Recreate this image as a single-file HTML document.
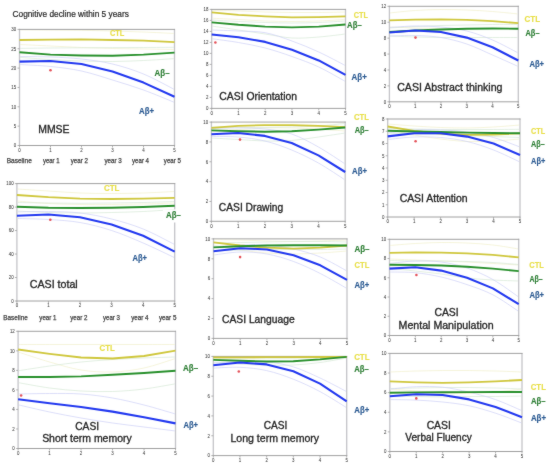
<!DOCTYPE html>
<html><head><meta charset="utf-8"><title>Cognitive decline within 5 years</title>
<style>html,body{margin:0;padding:0;background:#fff;width:550px;height:464px;overflow:hidden}svg{display:block;will-change:transform}</style>
</head><body>
<svg width="550" height="464" viewBox="0 0 550 464">
<defs><filter id="bl" x="0" y="0" width="550" height="464" filterUnits="userSpaceOnUse" color-interpolation-filters="sRGB"><feConvolveMatrix order="3" kernelMatrix="1 2 1 2 32 2 1 2 1" edgeMode="duplicate"/></filter></defs><g filter="url(#bl)">
<rect width="550" height="464" fill="#ffffff"/>
<style>text{font-family:"Liberation Sans", sans-serif} .tk{font-size:4.9px;fill:#3a3a3a;stroke:#444;stroke-width:0.05px} .lb{font-size:7.8px;font-weight:bold;stroke-width:0.15px} .tt{font-size:10.3px;fill:#262626;stroke:#262626;stroke-width:0.32px} .xl{font-size:6.6px;fill:#404040;font-weight:normal;stroke:#404040;stroke-width:0.25px} .hd{font-size:8.6px;fill:#262626;stroke:#262626;stroke-width:0.2px}</style>
<line x1="19.5" y1="28.9" x2="19.5" y2="146" stroke="#c4c4c8" stroke-width="1.3"/>
<line x1="174.5" y1="28.9" x2="174.5" y2="146" stroke="#c4c4c8" stroke-width="1.3"/>
<line x1="19" y1="29.4" x2="175" y2="29.4" stroke="#a0a0a0" stroke-width="1"/>
<line x1="19" y1="145.5" x2="175" y2="145.5" stroke="#a0a0a0" stroke-width="1"/>
<line x1="17.5" y1="145.5" x2="19.5" y2="145.5" stroke="#a0a0a0" stroke-width="0.8"/>
<text x="16.2" y="147.25" class="tk" text-anchor="end" textLength="2.45" lengthAdjust="spacingAndGlyphs">0</text>
<line x1="17.5" y1="126.15" x2="19.5" y2="126.15" stroke="#a0a0a0" stroke-width="0.8"/>
<text x="16.2" y="127.9" class="tk" text-anchor="end" textLength="2.45" lengthAdjust="spacingAndGlyphs">5</text>
<line x1="17.5" y1="106.8" x2="19.5" y2="106.8" stroke="#a0a0a0" stroke-width="0.8"/>
<text x="16.2" y="108.55" class="tk" text-anchor="end" textLength="4.9" lengthAdjust="spacingAndGlyphs">10</text>
<line x1="17.5" y1="87.45" x2="19.5" y2="87.45" stroke="#a0a0a0" stroke-width="0.8"/>
<text x="16.2" y="89.2" class="tk" text-anchor="end" textLength="4.9" lengthAdjust="spacingAndGlyphs">15</text>
<line x1="17.5" y1="68.1" x2="19.5" y2="68.1" stroke="#a0a0a0" stroke-width="0.8"/>
<text x="16.2" y="69.85" class="tk" text-anchor="end" textLength="4.9" lengthAdjust="spacingAndGlyphs">20</text>
<line x1="17.5" y1="48.75" x2="19.5" y2="48.75" stroke="#a0a0a0" stroke-width="0.8"/>
<text x="16.2" y="50.5" class="tk" text-anchor="end" textLength="4.9" lengthAdjust="spacingAndGlyphs">25</text>
<line x1="17.5" y1="29.4" x2="19.5" y2="29.4" stroke="#a0a0a0" stroke-width="0.8"/>
<text x="16.2" y="31.15" class="tk" text-anchor="end" textLength="4.9" lengthAdjust="spacingAndGlyphs">30</text>
<line x1="19.5" y1="145.5" x2="19.5" y2="147.5" stroke="#a0a0a0" stroke-width="0.8"/>
<text x="19.5" y="151.9" class="tk" text-anchor="middle" textLength="2.45" lengthAdjust="spacingAndGlyphs">0</text>
<line x1="50.5" y1="145.5" x2="50.5" y2="147.5" stroke="#a0a0a0" stroke-width="0.8"/>
<text x="50.5" y="151.9" class="tk" text-anchor="middle" textLength="2.45" lengthAdjust="spacingAndGlyphs">1</text>
<line x1="81.5" y1="145.5" x2="81.5" y2="147.5" stroke="#a0a0a0" stroke-width="0.8"/>
<text x="81.5" y="151.9" class="tk" text-anchor="middle" textLength="2.45" lengthAdjust="spacingAndGlyphs">2</text>
<line x1="112.5" y1="145.5" x2="112.5" y2="147.5" stroke="#a0a0a0" stroke-width="0.8"/>
<text x="112.5" y="151.9" class="tk" text-anchor="middle" textLength="2.45" lengthAdjust="spacingAndGlyphs">3</text>
<line x1="143.5" y1="145.5" x2="143.5" y2="147.5" stroke="#a0a0a0" stroke-width="0.8"/>
<text x="143.5" y="151.9" class="tk" text-anchor="middle" textLength="2.45" lengthAdjust="spacingAndGlyphs">4</text>
<line x1="174.5" y1="145.5" x2="174.5" y2="147.5" stroke="#a0a0a0" stroke-width="0.8"/>
<text x="174.5" y="151.9" class="tk" text-anchor="middle" textLength="2.45" lengthAdjust="spacingAndGlyphs">5</text>
<clipPath id="cpA"><rect x="20.2" y="30" width="153.6" height="114.9"/></clipPath><g clip-path="url(#cpA)">
<path d="M19.5,29.8 C24.67,29.83 40.17,29.92 50.5,30 C60.83,30.08 71.17,30.13 81.5,30.3 C91.83,30.47 102.17,30.72 112.5,31 C122.83,31.28 133.17,31.58 143.5,32 C153.83,32.42 169.33,33.25 174.5,33.5" fill="none" stroke="#f1efcc" stroke-width="0.7"/>
<path d="M19.5,44.5 C24.67,44.75 40.17,45.5 50.5,46 C60.83,46.5 71.17,47.08 81.5,47.5 C91.83,47.92 102.17,48.25 112.5,48.5 C122.83,48.75 133.17,48.83 143.5,49 C153.83,49.17 169.33,49.42 174.5,49.5" fill="none" stroke="#f1efcc" stroke-width="0.7"/>
<path d="M19.5,48.4 C24.67,48.33 40.17,48.1 50.5,48 C60.83,47.9 71.17,47.87 81.5,47.8 C91.83,47.73 102.17,47.65 112.5,47.6 C122.83,47.55 133.17,47.55 143.5,47.5 C153.83,47.45 169.33,47.33 174.5,47.3" fill="none" stroke="#d5e8d5" stroke-width="0.7"/>
<path d="M19.5,57.4 C24.67,57.75 40.17,58.9 50.5,59.5 C60.83,60.1 71.17,60.67 81.5,61 C91.83,61.33 102.17,61.58 112.5,61.5 C122.83,61.42 133.17,60.98 143.5,60.5 C153.83,60.02 169.33,58.92 174.5,58.6" fill="none" stroke="#d5e8d5" stroke-width="0.7"/>
<path d="M19.5,56.5 C24.67,56.58 40.17,56.58 50.5,57 C60.83,57.42 71.17,57.83 81.5,59 C91.83,60.17 102.17,61.5 112.5,64 C122.83,66.5 133.17,69.75 143.5,74 C153.83,78.25 169.33,86.92 174.5,89.5" fill="none" stroke="#cdd0f6" stroke-width="0.7"/>
<path d="M19.5,64.5 C24.67,64.83 40.17,65.42 50.5,66.5 C60.83,67.58 71.17,68.75 81.5,71 C91.83,73.25 102.17,76.83 112.5,80 C122.83,83.17 133.17,86.27 143.5,90 C153.83,93.73 169.33,100.33 174.5,102.4" fill="none" stroke="#cdd0f6" stroke-width="0.7"/>
</g>
<polyline points="19.5,40 50.5,39.7 81.5,39.4 112.5,40 143.5,40.6 174.5,42.1" fill="none" stroke="#cfc73c" stroke-width="1.8" stroke-linejoin="round" stroke-linecap="butt"/>
<polyline points="19.5,52.2 50.5,54.6 81.5,55.5 112.5,55.8 143.5,54.6 174.5,52.6" fill="none" stroke="#28902c" stroke-width="1.9" stroke-linejoin="round" stroke-linecap="butt"/>
<polyline points="19.5,61.6 50.5,61 81.5,64 112.5,71.5 143.5,82.6 174.5,96.8" fill="none" stroke="#2238f0" stroke-width="2.1" stroke-linejoin="round" stroke-linecap="butt"/>
<circle cx="50.5" cy="70.2" r="1.3" fill="#e4525a"/>
<line x1="16.9" y1="183.1" x2="16.9" y2="301.5" stroke="#c4c4c8" stroke-width="1.3"/>
<line x1="174.7" y1="183.1" x2="174.7" y2="301.5" stroke="#c4c4c8" stroke-width="1.3"/>
<line x1="16.4" y1="183.6" x2="175.2" y2="183.6" stroke="#a0a0a0" stroke-width="1"/>
<line x1="16.4" y1="301" x2="175.2" y2="301" stroke="#a0a0a0" stroke-width="1"/>
<line x1="14.9" y1="301" x2="16.9" y2="301" stroke="#a0a0a0" stroke-width="0.8"/>
<text x="13.6" y="302.75" class="tk" text-anchor="end" textLength="2.45" lengthAdjust="spacingAndGlyphs">0</text>
<line x1="14.9" y1="277.52" x2="16.9" y2="277.52" stroke="#a0a0a0" stroke-width="0.8"/>
<text x="13.6" y="279.27" class="tk" text-anchor="end" textLength="4.9" lengthAdjust="spacingAndGlyphs">20</text>
<line x1="14.9" y1="254.04" x2="16.9" y2="254.04" stroke="#a0a0a0" stroke-width="0.8"/>
<text x="13.6" y="255.79" class="tk" text-anchor="end" textLength="4.9" lengthAdjust="spacingAndGlyphs">40</text>
<line x1="14.9" y1="230.56" x2="16.9" y2="230.56" stroke="#a0a0a0" stroke-width="0.8"/>
<text x="13.6" y="232.31" class="tk" text-anchor="end" textLength="4.9" lengthAdjust="spacingAndGlyphs">60</text>
<line x1="14.9" y1="207.08" x2="16.9" y2="207.08" stroke="#a0a0a0" stroke-width="0.8"/>
<text x="13.6" y="208.83" class="tk" text-anchor="end" textLength="4.9" lengthAdjust="spacingAndGlyphs">80</text>
<line x1="14.9" y1="183.6" x2="16.9" y2="183.6" stroke="#a0a0a0" stroke-width="0.8"/>
<text x="13.6" y="185.35" class="tk" text-anchor="end" textLength="7.36" lengthAdjust="spacingAndGlyphs">100</text>
<line x1="16.9" y1="301" x2="16.9" y2="303" stroke="#a0a0a0" stroke-width="0.8"/>
<text x="16.9" y="307.4" class="tk" text-anchor="middle" textLength="2.45" lengthAdjust="spacingAndGlyphs">0</text>
<line x1="48.46" y1="301" x2="48.46" y2="303" stroke="#a0a0a0" stroke-width="0.8"/>
<text x="48.46" y="307.4" class="tk" text-anchor="middle" textLength="2.45" lengthAdjust="spacingAndGlyphs">1</text>
<line x1="80.02" y1="301" x2="80.02" y2="303" stroke="#a0a0a0" stroke-width="0.8"/>
<text x="80.02" y="307.4" class="tk" text-anchor="middle" textLength="2.45" lengthAdjust="spacingAndGlyphs">2</text>
<line x1="111.58" y1="301" x2="111.58" y2="303" stroke="#a0a0a0" stroke-width="0.8"/>
<text x="111.58" y="307.4" class="tk" text-anchor="middle" textLength="2.45" lengthAdjust="spacingAndGlyphs">3</text>
<line x1="143.14" y1="301" x2="143.14" y2="303" stroke="#a0a0a0" stroke-width="0.8"/>
<text x="143.14" y="307.4" class="tk" text-anchor="middle" textLength="2.45" lengthAdjust="spacingAndGlyphs">4</text>
<line x1="174.7" y1="301" x2="174.7" y2="303" stroke="#a0a0a0" stroke-width="0.8"/>
<text x="174.7" y="307.4" class="tk" text-anchor="middle" textLength="2.45" lengthAdjust="spacingAndGlyphs">5</text>
<clipPath id="cpB"><rect x="17.6" y="184.2" width="156.4" height="116.2"/></clipPath><g clip-path="url(#cpB)">
<path d="M16.9,189 C22.16,189.33 37.94,190.33 48.46,191 C58.98,191.67 69.5,192.58 80.02,193 C90.54,193.42 101.06,193.5 111.58,193.5 C122.1,193.5 132.62,193.33 143.14,193 C153.66,192.67 169.44,191.75 174.7,191.5" fill="none" stroke="#f1efcc" stroke-width="0.7"/>
<path d="M16.9,201 C22.16,201.42 37.94,202.92 48.46,203.5 C58.98,204.08 69.5,204.33 80.02,204.5 C90.54,204.67 101.06,204.58 111.58,204.5 C122.1,204.42 132.62,204.25 143.14,204 C153.66,203.75 169.44,203.17 174.7,203" fill="none" stroke="#f1efcc" stroke-width="0.7"/>
<path d="M16.9,202.5 C22.16,202.58 37.94,202.87 48.46,203 C58.98,203.13 69.5,203.3 80.02,203.3 C90.54,203.3 101.06,203.13 111.58,203 C122.1,202.87 132.62,202.75 143.14,202.5 C153.66,202.25 169.44,201.67 174.7,201.5" fill="none" stroke="#d5e8d5" stroke-width="0.7"/>
<path d="M16.9,211 C22.16,211.25 37.94,212.17 48.46,212.5 C58.98,212.83 69.5,213 80.02,213 C90.54,213 101.06,212.75 111.58,212.5 C122.1,212.25 132.62,212 143.14,211.5 C153.66,211 169.44,209.83 174.7,209.5" fill="none" stroke="#d5e8d5" stroke-width="0.7"/>
<path d="M16.9,212 C22.16,211.92 37.94,211.33 48.46,211.5 C58.98,211.67 69.5,211.75 80.02,213 C90.54,214.25 101.06,216.33 111.58,219 C122.1,221.67 132.62,224.75 143.14,229 C153.66,233.25 169.44,241.92 174.7,244.5" fill="none" stroke="#cdd0f6" stroke-width="0.7"/>
<path d="M16.9,218.5 C22.16,218.67 37.94,218.83 48.46,219.5 C58.98,220.17 69.5,220.67 80.02,222.5 C90.54,224.33 101.06,227.08 111.58,230.5 C122.1,233.92 132.62,238.47 143.14,243 C153.66,247.53 169.44,255.25 174.7,257.7" fill="none" stroke="#cdd0f6" stroke-width="0.7"/>
</g>
<polyline points="16.9,195 48.46,197.2 80.02,198.7 111.58,199 143.14,198.7 174.7,197.8" fill="none" stroke="#cfc73c" stroke-width="1.8" stroke-linejoin="round" stroke-linecap="butt"/>
<polyline points="16.9,206.7 48.46,207.7 80.02,208 111.58,207.7 143.14,207 174.7,205.8" fill="none" stroke="#28902c" stroke-width="1.9" stroke-linejoin="round" stroke-linecap="butt"/>
<polyline points="16.9,215.7 48.46,214.5 80.02,217.3 111.58,224.4 143.14,235.8 174.7,251.6" fill="none" stroke="#2238f0" stroke-width="2.1" stroke-linejoin="round" stroke-linecap="butt"/>
<circle cx="50.3" cy="219.8" r="1.3" fill="#e4525a"/>
<line x1="18.1" y1="330.8" x2="18.1" y2="449" stroke="#c4c4c8" stroke-width="1.3"/>
<line x1="175.5" y1="330.8" x2="175.5" y2="449" stroke="#c4c4c8" stroke-width="1.3"/>
<line x1="17.6" y1="331.3" x2="176" y2="331.3" stroke="#a0a0a0" stroke-width="1"/>
<line x1="17.6" y1="448.5" x2="176" y2="448.5" stroke="#a0a0a0" stroke-width="1"/>
<line x1="16.1" y1="448.5" x2="18.1" y2="448.5" stroke="#a0a0a0" stroke-width="0.8"/>
<text x="14.8" y="450.25" class="tk" text-anchor="end" textLength="2.45" lengthAdjust="spacingAndGlyphs">0</text>
<line x1="16.1" y1="428.97" x2="18.1" y2="428.97" stroke="#a0a0a0" stroke-width="0.8"/>
<text x="14.8" y="430.72" class="tk" text-anchor="end" textLength="2.45" lengthAdjust="spacingAndGlyphs">2</text>
<line x1="16.1" y1="409.43" x2="18.1" y2="409.43" stroke="#a0a0a0" stroke-width="0.8"/>
<text x="14.8" y="411.18" class="tk" text-anchor="end" textLength="2.45" lengthAdjust="spacingAndGlyphs">4</text>
<line x1="16.1" y1="389.9" x2="18.1" y2="389.9" stroke="#a0a0a0" stroke-width="0.8"/>
<text x="14.8" y="391.65" class="tk" text-anchor="end" textLength="2.45" lengthAdjust="spacingAndGlyphs">6</text>
<line x1="16.1" y1="370.37" x2="18.1" y2="370.37" stroke="#a0a0a0" stroke-width="0.8"/>
<text x="14.8" y="372.12" class="tk" text-anchor="end" textLength="2.45" lengthAdjust="spacingAndGlyphs">8</text>
<line x1="16.1" y1="350.83" x2="18.1" y2="350.83" stroke="#a0a0a0" stroke-width="0.8"/>
<text x="14.8" y="352.58" class="tk" text-anchor="end" textLength="4.9" lengthAdjust="spacingAndGlyphs">10</text>
<line x1="16.1" y1="331.3" x2="18.1" y2="331.3" stroke="#a0a0a0" stroke-width="0.8"/>
<text x="14.8" y="333.05" class="tk" text-anchor="end" textLength="4.9" lengthAdjust="spacingAndGlyphs">12</text>
<line x1="18.1" y1="448.5" x2="18.1" y2="450.5" stroke="#a0a0a0" stroke-width="0.8"/>
<text x="18.1" y="454.9" class="tk" text-anchor="middle" textLength="2.45" lengthAdjust="spacingAndGlyphs">0</text>
<line x1="49.58" y1="448.5" x2="49.58" y2="450.5" stroke="#a0a0a0" stroke-width="0.8"/>
<text x="49.58" y="454.9" class="tk" text-anchor="middle" textLength="2.45" lengthAdjust="spacingAndGlyphs">1</text>
<line x1="81.06" y1="448.5" x2="81.06" y2="450.5" stroke="#a0a0a0" stroke-width="0.8"/>
<text x="81.06" y="454.9" class="tk" text-anchor="middle" textLength="2.45" lengthAdjust="spacingAndGlyphs">2</text>
<line x1="112.54" y1="448.5" x2="112.54" y2="450.5" stroke="#a0a0a0" stroke-width="0.8"/>
<text x="112.54" y="454.9" class="tk" text-anchor="middle" textLength="2.45" lengthAdjust="spacingAndGlyphs">3</text>
<line x1="144.02" y1="448.5" x2="144.02" y2="450.5" stroke="#a0a0a0" stroke-width="0.8"/>
<text x="144.02" y="454.9" class="tk" text-anchor="middle" textLength="2.45" lengthAdjust="spacingAndGlyphs">4</text>
<line x1="175.5" y1="448.5" x2="175.5" y2="450.5" stroke="#a0a0a0" stroke-width="0.8"/>
<text x="175.5" y="454.9" class="tk" text-anchor="middle" textLength="2.45" lengthAdjust="spacingAndGlyphs">5</text>
<clipPath id="cpC"><rect x="18.8" y="331.9" width="156" height="116"/></clipPath><g clip-path="url(#cpC)">
<path d="M18.1,344.5 C23.35,344.5 39.09,344.5 49.58,344.5 C60.07,344.5 70.57,344.5 81.06,344.5 C91.55,344.5 102.05,344.5 112.54,344.5 C123.03,344.5 133.53,344.5 144.02,344.5 C154.51,344.5 170.25,344.5 175.5,344.5" fill="none" stroke="#f1efcc" stroke-width="0.7"/>
<path d="M18.1,352 C23.35,353.67 39.09,359 49.58,362 C60.07,365 70.57,368.33 81.06,370 C91.55,371.67 102.05,372.33 112.54,372 C123.03,371.67 133.53,370.25 144.02,368 C154.51,365.75 170.25,360.08 175.5,358.5" fill="none" stroke="#f1efcc" stroke-width="0.7"/>
<path d="M18.1,370.8 C23.35,370 39.09,367.47 49.58,366 C60.07,364.53 70.57,363.08 81.06,362 C91.55,360.92 102.05,360.17 112.54,359.5 C123.03,358.83 133.53,358.42 144.02,358 C154.51,357.58 170.25,357.17 175.5,357" fill="none" stroke="#d5e8d5" stroke-width="0.7"/>
<path d="M18.1,382.6 C23.35,383.5 39.09,386.6 49.58,388 C60.07,389.4 70.57,390.42 81.06,391 C91.55,391.58 102.05,391.83 112.54,391.5 C123.03,391.17 133.53,390.28 144.02,389 C154.51,387.72 170.25,384.67 175.5,383.8" fill="none" stroke="#d5e8d5" stroke-width="0.7"/>
<path d="M18.1,394 C23.35,393.92 39.09,393.5 49.58,393.5 C60.07,393.5 70.57,393.25 81.06,394 C91.55,394.75 102.05,396.17 112.54,398 C123.03,399.83 133.53,402.33 144.02,405 C154.51,407.67 170.25,412.5 175.5,414" fill="none" stroke="#cdd0f6" stroke-width="0.7"/>
<path d="M18.1,404.8 C23.35,406 39.09,409.8 49.58,412 C60.07,414.2 70.57,416.17 81.06,418 C91.55,419.83 102.05,421.5 112.54,423 C123.03,424.5 133.53,425.67 144.02,427 C154.51,428.33 170.25,430.33 175.5,431" fill="none" stroke="#cdd0f6" stroke-width="0.7"/>
</g>
<polyline points="18.1,349.5 49.58,353.8 81.06,357.5 112.54,358.5 144.02,356 175.5,350.7" fill="none" stroke="#cfc73c" stroke-width="1.8" stroke-linejoin="round" stroke-linecap="butt"/>
<polyline points="18.1,377 49.58,377 81.06,376.4 112.54,374.8 144.02,373 175.5,370.8" fill="none" stroke="#28902c" stroke-width="1.9" stroke-linejoin="round" stroke-linecap="butt"/>
<polyline points="18.1,399.3 49.58,403.3 81.06,407 112.54,411.6 144.02,417.2 175.5,423.4" fill="none" stroke="#2238f0" stroke-width="2.1" stroke-linejoin="round" stroke-linecap="butt"/>
<circle cx="21.1" cy="395.5" r="1.3" fill="#e4525a"/>
<line x1="211.7" y1="8.9" x2="211.7" y2="108.9" stroke="#c4c4c8" stroke-width="1.3"/>
<line x1="345.5" y1="8.9" x2="345.5" y2="108.9" stroke="#c4c4c8" stroke-width="1.3"/>
<line x1="211.2" y1="9.4" x2="346" y2="9.4" stroke="#a0a0a0" stroke-width="1"/>
<line x1="211.2" y1="108.4" x2="346" y2="108.4" stroke="#a0a0a0" stroke-width="1"/>
<line x1="209.7" y1="108.4" x2="211.7" y2="108.4" stroke="#a0a0a0" stroke-width="0.8"/>
<text x="208.4" y="110.15" class="tk" text-anchor="end" textLength="2.45" lengthAdjust="spacingAndGlyphs">0</text>
<line x1="209.7" y1="97.4" x2="211.7" y2="97.4" stroke="#a0a0a0" stroke-width="0.8"/>
<text x="208.4" y="99.15" class="tk" text-anchor="end" textLength="2.45" lengthAdjust="spacingAndGlyphs">2</text>
<line x1="209.7" y1="86.4" x2="211.7" y2="86.4" stroke="#a0a0a0" stroke-width="0.8"/>
<text x="208.4" y="88.15" class="tk" text-anchor="end" textLength="2.45" lengthAdjust="spacingAndGlyphs">4</text>
<line x1="209.7" y1="75.4" x2="211.7" y2="75.4" stroke="#a0a0a0" stroke-width="0.8"/>
<text x="208.4" y="77.15" class="tk" text-anchor="end" textLength="2.45" lengthAdjust="spacingAndGlyphs">6</text>
<line x1="209.7" y1="64.4" x2="211.7" y2="64.4" stroke="#a0a0a0" stroke-width="0.8"/>
<text x="208.4" y="66.15" class="tk" text-anchor="end" textLength="2.45" lengthAdjust="spacingAndGlyphs">8</text>
<line x1="209.7" y1="53.4" x2="211.7" y2="53.4" stroke="#a0a0a0" stroke-width="0.8"/>
<text x="208.4" y="55.15" class="tk" text-anchor="end" textLength="4.9" lengthAdjust="spacingAndGlyphs">10</text>
<line x1="209.7" y1="42.4" x2="211.7" y2="42.4" stroke="#a0a0a0" stroke-width="0.8"/>
<text x="208.4" y="44.15" class="tk" text-anchor="end" textLength="4.9" lengthAdjust="spacingAndGlyphs">12</text>
<line x1="209.7" y1="31.4" x2="211.7" y2="31.4" stroke="#a0a0a0" stroke-width="0.8"/>
<text x="208.4" y="33.15" class="tk" text-anchor="end" textLength="4.9" lengthAdjust="spacingAndGlyphs">14</text>
<line x1="209.7" y1="20.4" x2="211.7" y2="20.4" stroke="#a0a0a0" stroke-width="0.8"/>
<text x="208.4" y="22.15" class="tk" text-anchor="end" textLength="4.9" lengthAdjust="spacingAndGlyphs">16</text>
<line x1="209.7" y1="9.4" x2="211.7" y2="9.4" stroke="#a0a0a0" stroke-width="0.8"/>
<text x="208.4" y="11.15" class="tk" text-anchor="end" textLength="4.9" lengthAdjust="spacingAndGlyphs">18</text>
<line x1="211.7" y1="108.4" x2="211.7" y2="110.4" stroke="#a0a0a0" stroke-width="0.8"/>
<text x="211.7" y="114.8" class="tk" text-anchor="middle" textLength="2.45" lengthAdjust="spacingAndGlyphs">0</text>
<line x1="238.46" y1="108.4" x2="238.46" y2="110.4" stroke="#a0a0a0" stroke-width="0.8"/>
<text x="238.46" y="114.8" class="tk" text-anchor="middle" textLength="2.45" lengthAdjust="spacingAndGlyphs">1</text>
<line x1="265.22" y1="108.4" x2="265.22" y2="110.4" stroke="#a0a0a0" stroke-width="0.8"/>
<text x="265.22" y="114.8" class="tk" text-anchor="middle" textLength="2.45" lengthAdjust="spacingAndGlyphs">2</text>
<line x1="291.98" y1="108.4" x2="291.98" y2="110.4" stroke="#a0a0a0" stroke-width="0.8"/>
<text x="291.98" y="114.8" class="tk" text-anchor="middle" textLength="2.45" lengthAdjust="spacingAndGlyphs">3</text>
<line x1="318.74" y1="108.4" x2="318.74" y2="110.4" stroke="#a0a0a0" stroke-width="0.8"/>
<text x="318.74" y="114.8" class="tk" text-anchor="middle" textLength="2.45" lengthAdjust="spacingAndGlyphs">4</text>
<line x1="345.5" y1="108.4" x2="345.5" y2="110.4" stroke="#a0a0a0" stroke-width="0.8"/>
<text x="345.5" y="114.8" class="tk" text-anchor="middle" textLength="2.45" lengthAdjust="spacingAndGlyphs">5</text>
<clipPath id="cpD"><rect x="212.4" y="10" width="132.4" height="97.8"/></clipPath><g clip-path="url(#cpD)">
<path d="M211.7,10.3 C216.16,10.42 229.54,10.72 238.46,11 C247.38,11.28 256.3,11.75 265.22,12 C274.14,12.25 283.06,12.42 291.98,12.5 C300.9,12.58 309.82,12.58 318.74,12.5 C327.66,12.42 341.04,12.08 345.5,12" fill="none" stroke="#f1efcc" stroke-width="0.7"/>
<path d="M211.7,18.2 C216.16,18.42 229.54,19.03 238.46,19.5 C247.38,19.97 256.3,20.67 265.22,21 C274.14,21.33 283.06,21.5 291.98,21.5 C300.9,21.5 309.82,21.33 318.74,21 C327.66,20.67 341.04,19.75 345.5,19.5" fill="none" stroke="#f1efcc" stroke-width="0.7"/>
<path d="M211.7,20 C216.16,20.25 229.54,21.08 238.46,21.5 C247.38,21.92 256.3,22.25 265.22,22.5 C274.14,22.75 283.06,23 291.98,23 C300.9,23 309.82,22.83 318.74,22.5 C327.66,22.17 341.04,21.25 345.5,21" fill="none" stroke="#d5e8d5" stroke-width="0.7"/>
<path d="M211.7,26 C216.16,26.67 229.54,28.67 238.46,30 C247.38,31.33 256.3,32.67 265.22,34 C274.14,35.33 283.06,37.5 291.98,38 C300.9,38.5 309.82,37.67 318.74,37 C327.66,36.33 341.04,34.5 345.5,34" fill="none" stroke="#d5e8d5" stroke-width="0.7"/>
<path d="M211.7,30 C216.16,30.17 229.54,30.55 238.46,31 C247.38,31.45 256.3,31.03 265.22,32.7 C274.14,34.37 283.06,37.78 291.98,41 C300.9,44.22 309.82,47.9 318.74,52 C327.66,56.1 341.04,63.33 345.5,65.6" fill="none" stroke="#cdd0f6" stroke-width="0.7"/>
<path d="M211.7,38.7 C216.16,39.33 229.54,40.95 238.46,42.5 C247.38,44.05 256.3,45.67 265.22,48 C274.14,50.33 283.06,53.33 291.98,56.5 C300.9,59.67 309.82,62.83 318.74,67 C327.66,71.17 341.04,79.08 345.5,81.5" fill="none" stroke="#cdd0f6" stroke-width="0.7"/>
</g>
<polyline points="211.7,12.4 238.46,14.8 265.22,16.3 291.98,17.4 318.74,17.1 345.5,16.3" fill="none" stroke="#cfc73c" stroke-width="1.8" stroke-linejoin="round" stroke-linecap="butt"/>
<polyline points="211.7,22.4 238.46,24.8 265.22,26.6 291.98,27.4 318.74,26.6 345.5,24.5" fill="none" stroke="#28902c" stroke-width="1.9" stroke-linejoin="round" stroke-linecap="butt"/>
<polyline points="211.7,34.5 238.46,37.2 265.22,41.9 291.98,49.8 318.74,60.4 345.5,74.9" fill="none" stroke="#2238f0" stroke-width="2.1" stroke-linejoin="round" stroke-linecap="butt"/>
<circle cx="215.4" cy="42.5" r="1.3" fill="#e4525a"/>
<line x1="211.4" y1="121.6" x2="211.4" y2="221.8" stroke="#c4c4c8" stroke-width="1.3"/>
<line x1="345.2" y1="121.6" x2="345.2" y2="221.8" stroke="#c4c4c8" stroke-width="1.3"/>
<line x1="210.9" y1="122.1" x2="345.7" y2="122.1" stroke="#a0a0a0" stroke-width="1"/>
<line x1="210.9" y1="221.3" x2="345.7" y2="221.3" stroke="#a0a0a0" stroke-width="1"/>
<line x1="209.4" y1="221.3" x2="211.4" y2="221.3" stroke="#a0a0a0" stroke-width="0.8"/>
<text x="208.1" y="223.05" class="tk" text-anchor="end" textLength="2.45" lengthAdjust="spacingAndGlyphs">0</text>
<line x1="209.4" y1="201.46" x2="211.4" y2="201.46" stroke="#a0a0a0" stroke-width="0.8"/>
<text x="208.1" y="203.21" class="tk" text-anchor="end" textLength="2.45" lengthAdjust="spacingAndGlyphs">2</text>
<line x1="209.4" y1="181.62" x2="211.4" y2="181.62" stroke="#a0a0a0" stroke-width="0.8"/>
<text x="208.1" y="183.37" class="tk" text-anchor="end" textLength="2.45" lengthAdjust="spacingAndGlyphs">4</text>
<line x1="209.4" y1="161.78" x2="211.4" y2="161.78" stroke="#a0a0a0" stroke-width="0.8"/>
<text x="208.1" y="163.53" class="tk" text-anchor="end" textLength="2.45" lengthAdjust="spacingAndGlyphs">6</text>
<line x1="209.4" y1="141.94" x2="211.4" y2="141.94" stroke="#a0a0a0" stroke-width="0.8"/>
<text x="208.1" y="143.69" class="tk" text-anchor="end" textLength="2.45" lengthAdjust="spacingAndGlyphs">8</text>
<line x1="209.4" y1="122.1" x2="211.4" y2="122.1" stroke="#a0a0a0" stroke-width="0.8"/>
<text x="208.1" y="123.85" class="tk" text-anchor="end" textLength="4.9" lengthAdjust="spacingAndGlyphs">10</text>
<line x1="211.4" y1="221.3" x2="211.4" y2="223.3" stroke="#a0a0a0" stroke-width="0.8"/>
<text x="211.4" y="227.7" class="tk" text-anchor="middle" textLength="2.45" lengthAdjust="spacingAndGlyphs">0</text>
<line x1="238.16" y1="221.3" x2="238.16" y2="223.3" stroke="#a0a0a0" stroke-width="0.8"/>
<text x="238.16" y="227.7" class="tk" text-anchor="middle" textLength="2.45" lengthAdjust="spacingAndGlyphs">1</text>
<line x1="264.92" y1="221.3" x2="264.92" y2="223.3" stroke="#a0a0a0" stroke-width="0.8"/>
<text x="264.92" y="227.7" class="tk" text-anchor="middle" textLength="2.45" lengthAdjust="spacingAndGlyphs">2</text>
<line x1="291.68" y1="221.3" x2="291.68" y2="223.3" stroke="#a0a0a0" stroke-width="0.8"/>
<text x="291.68" y="227.7" class="tk" text-anchor="middle" textLength="2.45" lengthAdjust="spacingAndGlyphs">3</text>
<line x1="318.44" y1="221.3" x2="318.44" y2="223.3" stroke="#a0a0a0" stroke-width="0.8"/>
<text x="318.44" y="227.7" class="tk" text-anchor="middle" textLength="2.45" lengthAdjust="spacingAndGlyphs">4</text>
<line x1="345.2" y1="221.3" x2="345.2" y2="223.3" stroke="#a0a0a0" stroke-width="0.8"/>
<text x="345.2" y="227.7" class="tk" text-anchor="middle" textLength="2.45" lengthAdjust="spacingAndGlyphs">5</text>
<clipPath id="cpE"><rect x="212.1" y="122.7" width="132.4" height="98"/></clipPath><g clip-path="url(#cpE)">
<path d="M211.4,122.7 C215.86,122.67 229.24,122.53 238.16,122.5 C247.08,122.47 256,122.5 264.92,122.5 C273.84,122.5 282.76,122.5 291.68,122.5 C300.6,122.5 309.52,122.47 318.44,122.5 C327.36,122.53 340.74,122.67 345.2,122.7" fill="none" stroke="#f1efcc" stroke-width="0.7"/>
<path d="M211.4,131 C215.86,130.75 229.24,130 238.16,129.5 C247.08,129 256,128.25 264.92,128 C273.84,127.75 282.76,127.83 291.68,128 C300.6,128.17 309.52,128.5 318.44,129 C327.36,129.5 340.74,130.67 345.2,131" fill="none" stroke="#f1efcc" stroke-width="0.7"/>
<path d="M211.4,127 C215.86,127.08 229.24,127.42 238.16,127.5 C247.08,127.58 256,127.58 264.92,127.5 C273.84,127.42 282.76,127.25 291.68,127 C300.6,126.75 309.52,126.58 318.44,126 C327.36,125.42 340.74,123.92 345.2,123.5" fill="none" stroke="#d5e8d5" stroke-width="0.7"/>
<path d="M211.4,138 C215.86,138.25 229.24,139 238.16,139.5 C247.08,140 256,140.83 264.92,141 C273.84,141.17 282.76,141.17 291.68,140.5 C300.6,139.83 309.52,138.25 318.44,137 C327.36,135.75 340.74,133.67 345.2,133" fill="none" stroke="#d5e8d5" stroke-width="0.7"/>
<path d="M211.4,128.5 C215.86,128.42 229.24,127.92 238.16,128 C247.08,128.08 256,128 264.92,129 C273.84,130 282.76,131 291.68,134 C300.6,137 309.52,142 318.44,147 C327.36,152 340.74,161.17 345.2,164" fill="none" stroke="#cdd0f6" stroke-width="0.7"/>
<path d="M211.4,136.5 C215.86,136.58 229.24,136.25 238.16,137 C247.08,137.75 256,138.83 264.92,141 C273.84,143.17 282.76,146.33 291.68,150 C300.6,153.67 309.52,158 318.44,163 C327.36,168 340.74,177.17 345.2,180" fill="none" stroke="#cdd0f6" stroke-width="0.7"/>
</g>
<polyline points="211.4,127.8 238.16,125.9 264.92,125.1 291.68,125.1 318.44,125.9 345.2,127.2" fill="none" stroke="#cfc73c" stroke-width="1.8" stroke-linejoin="round" stroke-linecap="butt"/>
<polyline points="211.4,130.4 238.16,131.2 264.92,131.7 291.68,131.2 318.44,129.6 345.2,127.5" fill="none" stroke="#28902c" stroke-width="1.9" stroke-linejoin="round" stroke-linecap="butt"/>
<polyline points="211.4,134.3 238.16,133 264.92,135.9 291.68,143 318.44,155.4 345.2,172" fill="none" stroke="#2238f0" stroke-width="2.1" stroke-linejoin="round" stroke-linecap="butt"/>
<circle cx="240" cy="139.6" r="1.3" fill="#e4525a"/>
<line x1="213.5" y1="238.4" x2="213.5" y2="338.9" stroke="#c4c4c8" stroke-width="1.3"/>
<line x1="347" y1="238.4" x2="347" y2="338.9" stroke="#c4c4c8" stroke-width="1.3"/>
<line x1="213" y1="238.9" x2="347.5" y2="238.9" stroke="#a0a0a0" stroke-width="1"/>
<line x1="213" y1="338.4" x2="347.5" y2="338.4" stroke="#a0a0a0" stroke-width="1"/>
<line x1="211.5" y1="338.4" x2="213.5" y2="338.4" stroke="#a0a0a0" stroke-width="0.8"/>
<text x="210.2" y="340.15" class="tk" text-anchor="end" textLength="2.45" lengthAdjust="spacingAndGlyphs">0</text>
<line x1="211.5" y1="318.5" x2="213.5" y2="318.5" stroke="#a0a0a0" stroke-width="0.8"/>
<text x="210.2" y="320.25" class="tk" text-anchor="end" textLength="2.45" lengthAdjust="spacingAndGlyphs">2</text>
<line x1="211.5" y1="298.6" x2="213.5" y2="298.6" stroke="#a0a0a0" stroke-width="0.8"/>
<text x="210.2" y="300.35" class="tk" text-anchor="end" textLength="2.45" lengthAdjust="spacingAndGlyphs">4</text>
<line x1="211.5" y1="278.7" x2="213.5" y2="278.7" stroke="#a0a0a0" stroke-width="0.8"/>
<text x="210.2" y="280.45" class="tk" text-anchor="end" textLength="2.45" lengthAdjust="spacingAndGlyphs">6</text>
<line x1="211.5" y1="258.8" x2="213.5" y2="258.8" stroke="#a0a0a0" stroke-width="0.8"/>
<text x="210.2" y="260.55" class="tk" text-anchor="end" textLength="2.45" lengthAdjust="spacingAndGlyphs">8</text>
<line x1="211.5" y1="238.9" x2="213.5" y2="238.9" stroke="#a0a0a0" stroke-width="0.8"/>
<text x="210.2" y="240.65" class="tk" text-anchor="end" textLength="4.9" lengthAdjust="spacingAndGlyphs">10</text>
<line x1="213.5" y1="338.4" x2="213.5" y2="340.4" stroke="#a0a0a0" stroke-width="0.8"/>
<text x="213.5" y="344.8" class="tk" text-anchor="middle" textLength="2.45" lengthAdjust="spacingAndGlyphs">0</text>
<line x1="240.2" y1="338.4" x2="240.2" y2="340.4" stroke="#a0a0a0" stroke-width="0.8"/>
<text x="240.2" y="344.8" class="tk" text-anchor="middle" textLength="2.45" lengthAdjust="spacingAndGlyphs">1</text>
<line x1="266.9" y1="338.4" x2="266.9" y2="340.4" stroke="#a0a0a0" stroke-width="0.8"/>
<text x="266.9" y="344.8" class="tk" text-anchor="middle" textLength="2.45" lengthAdjust="spacingAndGlyphs">2</text>
<line x1="293.6" y1="338.4" x2="293.6" y2="340.4" stroke="#a0a0a0" stroke-width="0.8"/>
<text x="293.6" y="344.8" class="tk" text-anchor="middle" textLength="2.45" lengthAdjust="spacingAndGlyphs">3</text>
<line x1="320.3" y1="338.4" x2="320.3" y2="340.4" stroke="#a0a0a0" stroke-width="0.8"/>
<text x="320.3" y="344.8" class="tk" text-anchor="middle" textLength="2.45" lengthAdjust="spacingAndGlyphs">4</text>
<line x1="347" y1="338.4" x2="347" y2="340.4" stroke="#a0a0a0" stroke-width="0.8"/>
<text x="347" y="344.8" class="tk" text-anchor="middle" textLength="2.45" lengthAdjust="spacingAndGlyphs">5</text>
<clipPath id="cpF"><rect x="214.2" y="239.5" width="132.1" height="98.3"/></clipPath><g clip-path="url(#cpF)">
<path d="M213.5,239.5 C217.95,239.58 231.3,239.75 240.2,240 C249.1,240.25 258,240.75 266.9,241 C275.8,241.25 284.7,241.5 293.6,241.5 C302.5,241.5 311.4,241.25 320.3,241 C329.2,240.75 342.55,240.17 347,240" fill="none" stroke="#f1efcc" stroke-width="0.7"/>
<path d="M213.5,245.5 C217.95,246.25 231.3,248.75 240.2,250 C249.1,251.25 258,252.33 266.9,253 C275.8,253.67 284.7,254 293.6,254 C302.5,254 311.4,253.5 320.3,253 C329.2,252.5 342.55,251.33 347,251" fill="none" stroke="#f1efcc" stroke-width="0.7"/>
<path d="M213.5,243 C217.95,242.92 231.3,242.67 240.2,242.5 C249.1,242.33 258,242.17 266.9,242 C275.8,241.83 284.7,241.58 293.6,241.5 C302.5,241.42 311.4,241.42 320.3,241.5 C329.2,241.58 342.55,241.92 347,242" fill="none" stroke="#d5e8d5" stroke-width="0.7"/>
<path d="M213.5,251 C217.95,250.83 231.3,250.25 240.2,250 C249.1,249.75 258,249.58 266.9,249.5 C275.8,249.42 284.7,249.5 293.6,249.5 C302.5,249.5 311.4,249.58 320.3,249.5 C329.2,249.42 342.55,249.08 347,249" fill="none" stroke="#d5e8d5" stroke-width="0.7"/>
<path d="M213.5,247 C217.95,246.67 231.3,245.33 240.2,245 C249.1,244.67 258,244.33 266.9,245 C275.8,245.67 284.7,247 293.6,249 C302.5,251 311.4,253.33 320.3,257 C329.2,260.67 342.55,268.67 347,271" fill="none" stroke="#cdd0f6" stroke-width="0.7"/>
<path d="M213.5,255 C217.95,254.5 231.3,252.17 240.2,252 C249.1,251.83 258,252.42 266.9,254 C275.8,255.58 284.7,258.25 293.6,261.5 C302.5,264.75 311.4,269 320.3,273.5 C329.2,278 342.55,286 347,288.5" fill="none" stroke="#cdd0f6" stroke-width="0.7"/>
</g>
<polyline points="213.5,242.4 240.2,245.5 266.9,247.7 293.6,248.7 320.3,247.7 347,245.5" fill="none" stroke="#cfc73c" stroke-width="1.8" stroke-linejoin="round" stroke-linecap="butt"/>
<polyline points="213.5,247.4 240.2,246.3 266.9,245.5 293.6,245.3 320.3,245.3 347,245.5" fill="none" stroke="#28902c" stroke-width="1.9" stroke-linejoin="round" stroke-linecap="butt"/>
<polyline points="213.5,251.3 240.2,248.2 266.9,249.5 293.6,255.3 320.3,265.3 347,279.8" fill="none" stroke="#2238f0" stroke-width="2.1" stroke-linejoin="round" stroke-linecap="butt"/>
<circle cx="240.1" cy="257.1" r="1.3" fill="#e4525a"/>
<line x1="213.3" y1="355.9" x2="213.3" y2="456.1" stroke="#c4c4c8" stroke-width="1.3"/>
<line x1="346.7" y1="355.9" x2="346.7" y2="456.1" stroke="#c4c4c8" stroke-width="1.3"/>
<line x1="212.8" y1="356.4" x2="347.2" y2="356.4" stroke="#a0a0a0" stroke-width="1"/>
<line x1="212.8" y1="455.6" x2="347.2" y2="455.6" stroke="#a0a0a0" stroke-width="1"/>
<line x1="211.3" y1="455.6" x2="213.3" y2="455.6" stroke="#a0a0a0" stroke-width="0.8"/>
<text x="210" y="457.35" class="tk" text-anchor="end" textLength="2.45" lengthAdjust="spacingAndGlyphs">0</text>
<line x1="211.3" y1="435.76" x2="213.3" y2="435.76" stroke="#a0a0a0" stroke-width="0.8"/>
<text x="210" y="437.51" class="tk" text-anchor="end" textLength="2.45" lengthAdjust="spacingAndGlyphs">2</text>
<line x1="211.3" y1="415.92" x2="213.3" y2="415.92" stroke="#a0a0a0" stroke-width="0.8"/>
<text x="210" y="417.67" class="tk" text-anchor="end" textLength="2.45" lengthAdjust="spacingAndGlyphs">4</text>
<line x1="211.3" y1="396.08" x2="213.3" y2="396.08" stroke="#a0a0a0" stroke-width="0.8"/>
<text x="210" y="397.83" class="tk" text-anchor="end" textLength="2.45" lengthAdjust="spacingAndGlyphs">6</text>
<line x1="211.3" y1="376.24" x2="213.3" y2="376.24" stroke="#a0a0a0" stroke-width="0.8"/>
<text x="210" y="377.99" class="tk" text-anchor="end" textLength="2.45" lengthAdjust="spacingAndGlyphs">8</text>
<line x1="211.3" y1="356.4" x2="213.3" y2="356.4" stroke="#a0a0a0" stroke-width="0.8"/>
<text x="210" y="358.15" class="tk" text-anchor="end" textLength="4.9" lengthAdjust="spacingAndGlyphs">10</text>
<line x1="213.3" y1="455.6" x2="213.3" y2="457.6" stroke="#a0a0a0" stroke-width="0.8"/>
<text x="213.3" y="462" class="tk" text-anchor="middle" textLength="2.45" lengthAdjust="spacingAndGlyphs">0</text>
<line x1="239.98" y1="455.6" x2="239.98" y2="457.6" stroke="#a0a0a0" stroke-width="0.8"/>
<text x="239.98" y="462" class="tk" text-anchor="middle" textLength="2.45" lengthAdjust="spacingAndGlyphs">1</text>
<line x1="266.66" y1="455.6" x2="266.66" y2="457.6" stroke="#a0a0a0" stroke-width="0.8"/>
<text x="266.66" y="462" class="tk" text-anchor="middle" textLength="2.45" lengthAdjust="spacingAndGlyphs">2</text>
<line x1="293.34" y1="455.6" x2="293.34" y2="457.6" stroke="#a0a0a0" stroke-width="0.8"/>
<text x="293.34" y="462" class="tk" text-anchor="middle" textLength="2.45" lengthAdjust="spacingAndGlyphs">3</text>
<line x1="320.02" y1="455.6" x2="320.02" y2="457.6" stroke="#a0a0a0" stroke-width="0.8"/>
<text x="320.02" y="462" class="tk" text-anchor="middle" textLength="2.45" lengthAdjust="spacingAndGlyphs">4</text>
<line x1="346.7" y1="455.6" x2="346.7" y2="457.6" stroke="#a0a0a0" stroke-width="0.8"/>
<text x="346.7" y="462" class="tk" text-anchor="middle" textLength="2.45" lengthAdjust="spacingAndGlyphs">5</text>
<clipPath id="cpG"><rect x="214" y="357" width="132" height="98"/></clipPath><g clip-path="url(#cpG)">
<path d="M213.3,356.6 C217.75,356.6 231.09,356.6 239.98,356.6 C248.87,356.6 257.77,356.6 266.66,356.6 C275.55,356.6 284.45,356.6 293.34,356.6 C302.23,356.6 311.13,356.6 320.02,356.6 C328.91,356.6 342.25,356.6 346.7,356.6" fill="none" stroke="#f1efcc" stroke-width="0.7"/>
<path d="M213.3,358.5 C217.75,358.45 231.09,358.28 239.98,358.2 C248.87,358.12 257.77,358.03 266.66,358 C275.55,357.97 284.45,358 293.34,358 C302.23,358 311.13,358.08 320.02,358 C328.91,357.92 342.25,357.58 346.7,357.5" fill="none" stroke="#f1efcc" stroke-width="0.7"/>
<path d="M213.3,357.5 C217.75,357.5 231.09,357.42 239.98,357.5 C248.87,357.58 257.77,357.92 266.66,358 C275.55,358.08 284.45,358.17 293.34,358 C302.23,357.83 311.13,357.23 320.02,357 C328.91,356.77 342.25,356.67 346.7,356.6" fill="none" stroke="#d5e8d5" stroke-width="0.7"/>
<path d="M213.3,362.5 C217.75,362.75 231.09,363.58 239.98,364 C248.87,364.42 257.77,364.83 266.66,365 C275.55,365.17 284.45,365.42 293.34,365 C302.23,364.58 311.13,363.67 320.02,362.5 C328.91,361.33 342.25,358.75 346.7,358" fill="none" stroke="#d5e8d5" stroke-width="0.7"/>
<path d="M213.3,363.1 C217.75,362.9 231.09,362.1 239.98,361.9 C248.87,361.7 257.77,361.07 266.66,361.9 C275.55,362.73 284.45,364.22 293.34,366.9 C302.23,369.58 311.13,373.88 320.02,378 C328.91,382.12 342.25,389.33 346.7,391.6" fill="none" stroke="#cdd0f6" stroke-width="0.7"/>
<path d="M213.3,368.1 C217.75,367.97 231.09,366.88 239.98,367.3 C248.87,367.72 257.77,368.62 266.66,370.6 C275.55,372.58 284.45,375.7 293.34,379.2 C302.23,382.7 311.13,386.85 320.02,391.6 C328.91,396.35 342.25,405.02 346.7,407.7" fill="none" stroke="#cdd0f6" stroke-width="0.7"/>
</g>
<polyline points="213.3,357.4 239.98,357.3 266.66,357.2 293.34,357.1 320.02,357 346.7,356.8" fill="none" stroke="#cfc73c" stroke-width="1.8" stroke-linejoin="round" stroke-linecap="butt"/>
<polyline points="213.3,359.9 239.98,360.7 266.66,361.5 293.34,361.2 320.02,359.4 346.7,356.9" fill="none" stroke="#28902c" stroke-width="1.9" stroke-linejoin="round" stroke-linecap="butt"/>
<polyline points="213.3,365.2 239.98,362.5 266.66,364.4 293.34,371.2 320.02,383.6 346.7,401.3" fill="none" stroke="#2238f0" stroke-width="2.1" stroke-linejoin="round" stroke-linecap="butt"/>
<circle cx="238.8" cy="371.5" r="1.3" fill="#e4525a"/>
<line x1="389.4" y1="5.8" x2="389.4" y2="102.3" stroke="#c4c4c8" stroke-width="1.3"/>
<line x1="518.3" y1="5.8" x2="518.3" y2="102.3" stroke="#c4c4c8" stroke-width="1.3"/>
<line x1="388.9" y1="6.3" x2="518.8" y2="6.3" stroke="#a0a0a0" stroke-width="1"/>
<line x1="388.9" y1="101.8" x2="518.8" y2="101.8" stroke="#a0a0a0" stroke-width="1"/>
<line x1="387.4" y1="101.8" x2="389.4" y2="101.8" stroke="#a0a0a0" stroke-width="0.8"/>
<text x="386.1" y="103.55" class="tk" text-anchor="end" textLength="2.45" lengthAdjust="spacingAndGlyphs">0</text>
<line x1="387.4" y1="85.88" x2="389.4" y2="85.88" stroke="#a0a0a0" stroke-width="0.8"/>
<text x="386.1" y="87.63" class="tk" text-anchor="end" textLength="2.45" lengthAdjust="spacingAndGlyphs">2</text>
<line x1="387.4" y1="69.97" x2="389.4" y2="69.97" stroke="#a0a0a0" stroke-width="0.8"/>
<text x="386.1" y="71.72" class="tk" text-anchor="end" textLength="2.45" lengthAdjust="spacingAndGlyphs">4</text>
<line x1="387.4" y1="54.05" x2="389.4" y2="54.05" stroke="#a0a0a0" stroke-width="0.8"/>
<text x="386.1" y="55.8" class="tk" text-anchor="end" textLength="2.45" lengthAdjust="spacingAndGlyphs">6</text>
<line x1="387.4" y1="38.13" x2="389.4" y2="38.13" stroke="#a0a0a0" stroke-width="0.8"/>
<text x="386.1" y="39.88" class="tk" text-anchor="end" textLength="2.45" lengthAdjust="spacingAndGlyphs">8</text>
<line x1="387.4" y1="22.22" x2="389.4" y2="22.22" stroke="#a0a0a0" stroke-width="0.8"/>
<text x="386.1" y="23.97" class="tk" text-anchor="end" textLength="4.9" lengthAdjust="spacingAndGlyphs">10</text>
<line x1="387.4" y1="6.3" x2="389.4" y2="6.3" stroke="#a0a0a0" stroke-width="0.8"/>
<text x="386.1" y="8.05" class="tk" text-anchor="end" textLength="4.9" lengthAdjust="spacingAndGlyphs">12</text>
<line x1="389.4" y1="101.8" x2="389.4" y2="103.8" stroke="#a0a0a0" stroke-width="0.8"/>
<text x="389.4" y="108.2" class="tk" text-anchor="middle" textLength="2.45" lengthAdjust="spacingAndGlyphs">0</text>
<line x1="415.18" y1="101.8" x2="415.18" y2="103.8" stroke="#a0a0a0" stroke-width="0.8"/>
<text x="415.18" y="108.2" class="tk" text-anchor="middle" textLength="2.45" lengthAdjust="spacingAndGlyphs">1</text>
<line x1="440.96" y1="101.8" x2="440.96" y2="103.8" stroke="#a0a0a0" stroke-width="0.8"/>
<text x="440.96" y="108.2" class="tk" text-anchor="middle" textLength="2.45" lengthAdjust="spacingAndGlyphs">2</text>
<line x1="466.74" y1="101.8" x2="466.74" y2="103.8" stroke="#a0a0a0" stroke-width="0.8"/>
<text x="466.74" y="108.2" class="tk" text-anchor="middle" textLength="2.45" lengthAdjust="spacingAndGlyphs">3</text>
<line x1="492.52" y1="101.8" x2="492.52" y2="103.8" stroke="#a0a0a0" stroke-width="0.8"/>
<text x="492.52" y="108.2" class="tk" text-anchor="middle" textLength="2.45" lengthAdjust="spacingAndGlyphs">4</text>
<line x1="518.3" y1="101.8" x2="518.3" y2="103.8" stroke="#a0a0a0" stroke-width="0.8"/>
<text x="518.3" y="108.2" class="tk" text-anchor="middle" textLength="2.45" lengthAdjust="spacingAndGlyphs">5</text>
<clipPath id="cpH"><rect x="390.1" y="6.9" width="127.5" height="94.3"/></clipPath><g clip-path="url(#cpH)">
<path d="M389.4,13 C393.7,12.58 406.59,11.08 415.18,10.5 C423.77,9.92 432.37,9.58 440.96,9.5 C449.55,9.42 458.15,9.67 466.74,10 C475.33,10.33 483.93,10.83 492.52,11.5 C501.11,12.17 514,13.58 518.3,14" fill="none" stroke="#f1efcc" stroke-width="0.7"/>
<path d="M389.4,27 C393.7,27.17 406.59,27.75 415.18,28 C423.77,28.25 432.37,28.42 440.96,28.5 C449.55,28.58 458.15,28.5 466.74,28.5 C475.33,28.5 483.93,28.42 492.52,28.5 C501.11,28.58 514,28.92 518.3,29" fill="none" stroke="#f1efcc" stroke-width="0.7"/>
<path d="M389.4,28 C393.7,27.75 406.59,26.92 415.18,26.5 C423.77,26.08 432.37,25.75 440.96,25.5 C449.55,25.25 458.15,25.17 466.74,25 C475.33,24.83 483.93,24.58 492.52,24.5 C501.11,24.42 514,24.5 518.3,24.5" fill="none" stroke="#d5e8d5" stroke-width="0.7"/>
<path d="M389.4,36 C393.7,36.17 406.59,36.75 415.18,37 C423.77,37.25 432.37,37.42 440.96,37.5 C449.55,37.58 458.15,37.5 466.74,37.5 C475.33,37.5 483.93,37.5 492.52,37.5 C501.11,37.5 514,37.5 518.3,37.5" fill="none" stroke="#d5e8d5" stroke-width="0.7"/>
<path d="M389.4,27.5 C393.7,27.25 406.59,26.08 415.18,26 C423.77,25.92 432.37,26.17 440.96,27 C449.55,27.83 458.15,28.83 466.74,31 C475.33,33.17 483.93,36.33 492.52,40 C501.11,43.67 514,50.83 518.3,53" fill="none" stroke="#cdd0f6" stroke-width="0.7"/>
<path d="M389.4,36 C393.7,35.92 406.59,35.25 415.18,35.5 C423.77,35.75 432.37,36.08 440.96,37.5 C449.55,38.92 458.15,41.08 466.74,44 C475.33,46.92 483.93,51.25 492.52,55 C501.11,58.75 514,64.58 518.3,66.5" fill="none" stroke="#cdd0f6" stroke-width="0.7"/>
</g>
<polyline points="389.4,20.3 415.18,19.6 440.96,19.3 466.74,19.8 492.52,21.1 518.3,23.1" fill="none" stroke="#cfc73c" stroke-width="1.8" stroke-linejoin="round" stroke-linecap="butt"/>
<polyline points="389.4,32 415.18,30.5 440.96,29.5 466.74,28.7 492.52,28.5 518.3,28.7" fill="none" stroke="#28902c" stroke-width="1.9" stroke-linejoin="round" stroke-linecap="butt"/>
<polyline points="389.4,32.5 415.18,30.5 440.96,32 466.74,37.6 492.52,47.3 518.3,60.5" fill="none" stroke="#2238f0" stroke-width="2.1" stroke-linejoin="round" stroke-linecap="butt"/>
<circle cx="415.5" cy="37.6" r="1.3" fill="#e4525a"/>
<line x1="387.7" y1="118.5" x2="387.7" y2="217.5" stroke="#c4c4c8" stroke-width="1.3"/>
<line x1="520" y1="118.5" x2="520" y2="217.5" stroke="#c4c4c8" stroke-width="1.3"/>
<line x1="387.2" y1="119" x2="520.5" y2="119" stroke="#a0a0a0" stroke-width="1"/>
<line x1="387.2" y1="217" x2="520.5" y2="217" stroke="#a0a0a0" stroke-width="1"/>
<line x1="385.7" y1="217" x2="387.7" y2="217" stroke="#a0a0a0" stroke-width="0.8"/>
<text x="384.4" y="218.75" class="tk" text-anchor="end" textLength="2.45" lengthAdjust="spacingAndGlyphs">0</text>
<line x1="385.7" y1="204.75" x2="387.7" y2="204.75" stroke="#a0a0a0" stroke-width="0.8"/>
<text x="384.4" y="206.5" class="tk" text-anchor="end" textLength="2.45" lengthAdjust="spacingAndGlyphs">1</text>
<line x1="385.7" y1="192.5" x2="387.7" y2="192.5" stroke="#a0a0a0" stroke-width="0.8"/>
<text x="384.4" y="194.25" class="tk" text-anchor="end" textLength="2.45" lengthAdjust="spacingAndGlyphs">2</text>
<line x1="385.7" y1="180.25" x2="387.7" y2="180.25" stroke="#a0a0a0" stroke-width="0.8"/>
<text x="384.4" y="182" class="tk" text-anchor="end" textLength="2.45" lengthAdjust="spacingAndGlyphs">3</text>
<line x1="385.7" y1="168" x2="387.7" y2="168" stroke="#a0a0a0" stroke-width="0.8"/>
<text x="384.4" y="169.75" class="tk" text-anchor="end" textLength="2.45" lengthAdjust="spacingAndGlyphs">4</text>
<line x1="385.7" y1="155.75" x2="387.7" y2="155.75" stroke="#a0a0a0" stroke-width="0.8"/>
<text x="384.4" y="157.5" class="tk" text-anchor="end" textLength="2.45" lengthAdjust="spacingAndGlyphs">5</text>
<line x1="385.7" y1="143.5" x2="387.7" y2="143.5" stroke="#a0a0a0" stroke-width="0.8"/>
<text x="384.4" y="145.25" class="tk" text-anchor="end" textLength="2.45" lengthAdjust="spacingAndGlyphs">6</text>
<line x1="385.7" y1="131.25" x2="387.7" y2="131.25" stroke="#a0a0a0" stroke-width="0.8"/>
<text x="384.4" y="133" class="tk" text-anchor="end" textLength="2.45" lengthAdjust="spacingAndGlyphs">7</text>
<line x1="385.7" y1="119" x2="387.7" y2="119" stroke="#a0a0a0" stroke-width="0.8"/>
<text x="384.4" y="120.75" class="tk" text-anchor="end" textLength="2.45" lengthAdjust="spacingAndGlyphs">8</text>
<line x1="387.7" y1="217" x2="387.7" y2="219" stroke="#a0a0a0" stroke-width="0.8"/>
<text x="387.7" y="223.4" class="tk" text-anchor="middle" textLength="2.45" lengthAdjust="spacingAndGlyphs">0</text>
<line x1="414.16" y1="217" x2="414.16" y2="219" stroke="#a0a0a0" stroke-width="0.8"/>
<text x="414.16" y="223.4" class="tk" text-anchor="middle" textLength="2.45" lengthAdjust="spacingAndGlyphs">1</text>
<line x1="440.62" y1="217" x2="440.62" y2="219" stroke="#a0a0a0" stroke-width="0.8"/>
<text x="440.62" y="223.4" class="tk" text-anchor="middle" textLength="2.45" lengthAdjust="spacingAndGlyphs">2</text>
<line x1="467.08" y1="217" x2="467.08" y2="219" stroke="#a0a0a0" stroke-width="0.8"/>
<text x="467.08" y="223.4" class="tk" text-anchor="middle" textLength="2.45" lengthAdjust="spacingAndGlyphs">3</text>
<line x1="493.54" y1="217" x2="493.54" y2="219" stroke="#a0a0a0" stroke-width="0.8"/>
<text x="493.54" y="223.4" class="tk" text-anchor="middle" textLength="2.45" lengthAdjust="spacingAndGlyphs">4</text>
<line x1="520" y1="217" x2="520" y2="219" stroke="#a0a0a0" stroke-width="0.8"/>
<text x="520" y="223.4" class="tk" text-anchor="middle" textLength="2.45" lengthAdjust="spacingAndGlyphs">5</text>
<clipPath id="cpI"><rect x="388.4" y="119.6" width="130.9" height="96.8"/></clipPath><g clip-path="url(#cpI)">
<path d="M387.7,124 C392.11,124.33 405.34,125.42 414.16,126 C422.98,126.58 431.8,127.17 440.62,127.5 C449.44,127.83 458.26,128.08 467.08,128 C475.9,127.92 484.72,127.5 493.54,127 C502.36,126.5 515.59,125.33 520,125" fill="none" stroke="#f1efcc" stroke-width="0.7"/>
<path d="M387.7,129.5 C392.11,130.42 405.34,133.42 414.16,135 C422.98,136.58 431.8,137.92 440.62,139 C449.44,140.08 458.26,141.17 467.08,141.5 C475.9,141.83 484.72,141.42 493.54,141 C502.36,140.58 515.59,139.33 520,139" fill="none" stroke="#f1efcc" stroke-width="0.7"/>
<path d="M387.7,128.5 C392.11,128.58 405.34,128.83 414.16,129 C422.98,129.17 431.8,129.42 440.62,129.5 C449.44,129.58 458.26,129.5 467.08,129.5 C475.9,129.5 484.72,129.53 493.54,129.5 C502.36,129.47 515.59,129.33 520,129.3" fill="none" stroke="#d5e8d5" stroke-width="0.7"/>
<path d="M387.7,133 C392.11,133.17 405.34,133.75 414.16,134 C422.98,134.25 431.8,134.25 440.62,134.5 C449.44,134.75 458.26,135.17 467.08,135.5 C475.9,135.83 484.72,136.17 493.54,136.5 C502.36,136.83 515.59,137.33 520,137.5" fill="none" stroke="#d5e8d5" stroke-width="0.7"/>
<path d="M387.7,133 C392.11,132.5 405.34,130.5 414.16,130 C422.98,129.5 431.8,129.67 440.62,130 C449.44,130.33 458.26,130.75 467.08,132 C475.9,133.25 484.72,135 493.54,137.5 C502.36,140 515.59,145.42 520,147" fill="none" stroke="#cdd0f6" stroke-width="0.7"/>
<path d="M387.7,139.5 C392.11,139.08 405.34,137.33 414.16,137 C422.98,136.67 431.8,136.75 440.62,137.5 C449.44,138.25 458.26,139.42 467.08,141.5 C475.9,143.58 484.72,146.58 493.54,150 C502.36,153.42 515.59,160 520,162" fill="none" stroke="#cdd0f6" stroke-width="0.7"/>
</g>
<polyline points="387.7,126.5 414.16,130.8 440.62,133.6 467.08,134.9 493.54,134.6 520,133.3" fill="none" stroke="#cfc73c" stroke-width="1.8" stroke-linejoin="round" stroke-linecap="butt"/>
<polyline points="387.7,130.8 414.16,131.5 440.62,132 467.08,132.6 493.54,133 520,133.3" fill="none" stroke="#28902c" stroke-width="1.9" stroke-linejoin="round" stroke-linecap="butt"/>
<polyline points="387.7,136.4 414.16,133.3 440.62,133.3 467.08,136.6 493.54,143.5 520,155" fill="none" stroke="#2238f0" stroke-width="2.1" stroke-linejoin="round" stroke-linecap="butt"/>
<circle cx="415.6" cy="141.3" r="1.3" fill="#e4525a"/>
<line x1="389.5" y1="238.8" x2="389.5" y2="336" stroke="#c4c4c8" stroke-width="1.3"/>
<line x1="518.7" y1="238.8" x2="518.7" y2="336" stroke="#c4c4c8" stroke-width="1.3"/>
<line x1="389" y1="239.3" x2="519.2" y2="239.3" stroke="#a0a0a0" stroke-width="1"/>
<line x1="389" y1="335.5" x2="519.2" y2="335.5" stroke="#a0a0a0" stroke-width="1"/>
<line x1="387.5" y1="335.5" x2="389.5" y2="335.5" stroke="#a0a0a0" stroke-width="0.8"/>
<text x="386.2" y="337.25" class="tk" text-anchor="end" textLength="2.45" lengthAdjust="spacingAndGlyphs">0</text>
<line x1="387.5" y1="316.26" x2="389.5" y2="316.26" stroke="#a0a0a0" stroke-width="0.8"/>
<text x="386.2" y="318.01" class="tk" text-anchor="end" textLength="2.45" lengthAdjust="spacingAndGlyphs">2</text>
<line x1="387.5" y1="297.02" x2="389.5" y2="297.02" stroke="#a0a0a0" stroke-width="0.8"/>
<text x="386.2" y="298.77" class="tk" text-anchor="end" textLength="2.45" lengthAdjust="spacingAndGlyphs">4</text>
<line x1="387.5" y1="277.78" x2="389.5" y2="277.78" stroke="#a0a0a0" stroke-width="0.8"/>
<text x="386.2" y="279.53" class="tk" text-anchor="end" textLength="2.45" lengthAdjust="spacingAndGlyphs">6</text>
<line x1="387.5" y1="258.54" x2="389.5" y2="258.54" stroke="#a0a0a0" stroke-width="0.8"/>
<text x="386.2" y="260.29" class="tk" text-anchor="end" textLength="2.45" lengthAdjust="spacingAndGlyphs">8</text>
<line x1="387.5" y1="239.3" x2="389.5" y2="239.3" stroke="#a0a0a0" stroke-width="0.8"/>
<text x="386.2" y="241.05" class="tk" text-anchor="end" textLength="4.9" lengthAdjust="spacingAndGlyphs">10</text>
<line x1="389.5" y1="335.5" x2="389.5" y2="337.5" stroke="#a0a0a0" stroke-width="0.8"/>
<text x="389.5" y="341.9" class="tk" text-anchor="middle" textLength="2.45" lengthAdjust="spacingAndGlyphs">0</text>
<line x1="415.34" y1="335.5" x2="415.34" y2="337.5" stroke="#a0a0a0" stroke-width="0.8"/>
<text x="415.34" y="341.9" class="tk" text-anchor="middle" textLength="2.45" lengthAdjust="spacingAndGlyphs">1</text>
<line x1="441.18" y1="335.5" x2="441.18" y2="337.5" stroke="#a0a0a0" stroke-width="0.8"/>
<text x="441.18" y="341.9" class="tk" text-anchor="middle" textLength="2.45" lengthAdjust="spacingAndGlyphs">2</text>
<line x1="467.02" y1="335.5" x2="467.02" y2="337.5" stroke="#a0a0a0" stroke-width="0.8"/>
<text x="467.02" y="341.9" class="tk" text-anchor="middle" textLength="2.45" lengthAdjust="spacingAndGlyphs">3</text>
<line x1="492.86" y1="335.5" x2="492.86" y2="337.5" stroke="#a0a0a0" stroke-width="0.8"/>
<text x="492.86" y="341.9" class="tk" text-anchor="middle" textLength="2.45" lengthAdjust="spacingAndGlyphs">4</text>
<line x1="518.7" y1="335.5" x2="518.7" y2="337.5" stroke="#a0a0a0" stroke-width="0.8"/>
<text x="518.7" y="341.9" class="tk" text-anchor="middle" textLength="2.45" lengthAdjust="spacingAndGlyphs">5</text>
<clipPath id="cpJ"><rect x="390.2" y="239.9" width="127.8" height="95"/></clipPath><g clip-path="url(#cpJ)">
<path d="M389.5,245.5 C393.81,245.17 406.73,244 415.34,243.5 C423.95,243 432.57,242.58 441.18,242.5 C449.79,242.42 458.41,242.58 467.02,243 C475.63,243.42 484.25,244 492.86,245 C501.47,246 514.39,248.33 518.7,249" fill="none" stroke="#f1efcc" stroke-width="0.7"/>
<path d="M389.5,259 C393.81,259.17 406.73,259.67 415.34,260 C423.95,260.33 432.57,260.67 441.18,261 C449.79,261.33 458.41,261.58 467.02,262 C475.63,262.42 484.25,263 492.86,263.5 C501.47,264 514.39,264.75 518.7,265" fill="none" stroke="#f1efcc" stroke-width="0.7"/>
<path d="M389.5,260.5 C393.81,260.58 406.73,260.92 415.34,261 C423.95,261.08 432.57,260.92 441.18,261 C449.79,261.08 458.41,261.25 467.02,261.5 C475.63,261.75 484.25,262 492.86,262.5 C501.47,263 514.39,264.17 518.7,264.5" fill="none" stroke="#d5e8d5" stroke-width="0.7"/>
<path d="M389.5,268.5 C393.81,268.92 406.73,270.08 415.34,271 C423.95,271.92 432.57,272.83 441.18,274 C449.79,275.17 458.41,277 467.02,278 C475.63,279 484.25,279.5 492.86,280 C501.47,280.5 514.39,280.83 518.7,281" fill="none" stroke="#d5e8d5" stroke-width="0.7"/>
<path d="M389.5,263.5 C393.81,263.08 406.73,261.25 415.34,261 C423.95,260.75 432.57,260.83 441.18,262 C449.79,263.17 458.41,265.08 467.02,268 C475.63,270.92 484.25,274.67 492.86,279.5 C501.47,284.33 514.39,294.08 518.7,297" fill="none" stroke="#cdd0f6" stroke-width="0.7"/>
<path d="M389.5,272 C393.81,272.12 406.73,271.87 415.34,272.7 C423.95,273.53 432.57,275.02 441.18,277 C449.79,278.98 458.41,281.63 467.02,284.6 C475.63,287.57 484.25,290.33 492.86,294.8 C501.47,299.27 514.39,308.63 518.7,311.4" fill="none" stroke="#cdd0f6" stroke-width="0.7"/>
</g>
<polyline points="389.5,252.8 415.34,252.3 441.18,252.6 467.02,253.3 492.86,254.9 518.7,257.4" fill="none" stroke="#cfc73c" stroke-width="1.8" stroke-linejoin="round" stroke-linecap="butt"/>
<polyline points="389.5,264.8 415.34,265 441.18,265.5 467.02,266.8 492.86,268.6 518.7,271.1" fill="none" stroke="#28902c" stroke-width="1.9" stroke-linejoin="round" stroke-linecap="butt"/>
<polyline points="389.5,268.6 415.34,267.3 441.18,270.6 467.02,277.8 492.86,288.4 518.7,304.2" fill="none" stroke="#2238f0" stroke-width="2.1" stroke-linejoin="round" stroke-linecap="butt"/>
<circle cx="416.4" cy="275" r="1.3" fill="#e4525a"/>
<line x1="389.8" y1="352.9" x2="389.8" y2="452" stroke="#c4c4c8" stroke-width="1.3"/>
<line x1="522" y1="352.9" x2="522" y2="452" stroke="#c4c4c8" stroke-width="1.3"/>
<line x1="389.3" y1="353.4" x2="522.5" y2="353.4" stroke="#a0a0a0" stroke-width="1"/>
<line x1="389.3" y1="451.5" x2="522.5" y2="451.5" stroke="#a0a0a0" stroke-width="1"/>
<line x1="387.8" y1="451.5" x2="389.8" y2="451.5" stroke="#a0a0a0" stroke-width="0.8"/>
<text x="386.5" y="453.25" class="tk" text-anchor="end" textLength="2.45" lengthAdjust="spacingAndGlyphs">0</text>
<line x1="387.8" y1="431.88" x2="389.8" y2="431.88" stroke="#a0a0a0" stroke-width="0.8"/>
<text x="386.5" y="433.63" class="tk" text-anchor="end" textLength="2.45" lengthAdjust="spacingAndGlyphs">2</text>
<line x1="387.8" y1="412.26" x2="389.8" y2="412.26" stroke="#a0a0a0" stroke-width="0.8"/>
<text x="386.5" y="414.01" class="tk" text-anchor="end" textLength="2.45" lengthAdjust="spacingAndGlyphs">4</text>
<line x1="387.8" y1="392.64" x2="389.8" y2="392.64" stroke="#a0a0a0" stroke-width="0.8"/>
<text x="386.5" y="394.39" class="tk" text-anchor="end" textLength="2.45" lengthAdjust="spacingAndGlyphs">6</text>
<line x1="387.8" y1="373.02" x2="389.8" y2="373.02" stroke="#a0a0a0" stroke-width="0.8"/>
<text x="386.5" y="374.77" class="tk" text-anchor="end" textLength="2.45" lengthAdjust="spacingAndGlyphs">8</text>
<line x1="387.8" y1="353.4" x2="389.8" y2="353.4" stroke="#a0a0a0" stroke-width="0.8"/>
<text x="386.5" y="355.15" class="tk" text-anchor="end" textLength="4.9" lengthAdjust="spacingAndGlyphs">10</text>
<line x1="389.8" y1="451.5" x2="389.8" y2="453.5" stroke="#a0a0a0" stroke-width="0.8"/>
<text x="389.8" y="457.9" class="tk" text-anchor="middle" textLength="2.45" lengthAdjust="spacingAndGlyphs">0</text>
<line x1="416.24" y1="451.5" x2="416.24" y2="453.5" stroke="#a0a0a0" stroke-width="0.8"/>
<text x="416.24" y="457.9" class="tk" text-anchor="middle" textLength="2.45" lengthAdjust="spacingAndGlyphs">1</text>
<line x1="442.68" y1="451.5" x2="442.68" y2="453.5" stroke="#a0a0a0" stroke-width="0.8"/>
<text x="442.68" y="457.9" class="tk" text-anchor="middle" textLength="2.45" lengthAdjust="spacingAndGlyphs">2</text>
<line x1="469.12" y1="451.5" x2="469.12" y2="453.5" stroke="#a0a0a0" stroke-width="0.8"/>
<text x="469.12" y="457.9" class="tk" text-anchor="middle" textLength="2.45" lengthAdjust="spacingAndGlyphs">3</text>
<line x1="495.56" y1="451.5" x2="495.56" y2="453.5" stroke="#a0a0a0" stroke-width="0.8"/>
<text x="495.56" y="457.9" class="tk" text-anchor="middle" textLength="2.45" lengthAdjust="spacingAndGlyphs">4</text>
<line x1="522" y1="451.5" x2="522" y2="453.5" stroke="#a0a0a0" stroke-width="0.8"/>
<text x="522" y="457.9" class="tk" text-anchor="middle" textLength="2.45" lengthAdjust="spacingAndGlyphs">5</text>
<clipPath id="cpK"><rect x="390.5" y="354" width="130.8" height="96.9"/></clipPath><g clip-path="url(#cpK)">
<path d="M389.8,372 C394.21,371.83 407.43,371.25 416.24,371 C425.05,370.75 433.87,370.58 442.68,370.5 C451.49,370.42 460.31,370.42 469.12,370.5 C477.93,370.58 486.75,370.75 495.56,371 C504.37,371.25 517.59,371.83 522,372" fill="none" stroke="#f1efcc" stroke-width="0.7"/>
<path d="M389.8,389 C394.21,389.33 407.43,390.33 416.24,391 C425.05,391.67 433.87,392.58 442.68,393 C451.49,393.42 460.31,393.67 469.12,393.5 C477.93,393.33 486.75,392.75 495.56,392 C504.37,391.25 517.59,389.5 522,389" fill="none" stroke="#f1efcc" stroke-width="0.7"/>
<path d="M389.8,388.5 C394.21,388.42 407.43,388.17 416.24,388 C425.05,387.83 433.87,387.58 442.68,387.5 C451.49,387.42 460.31,387.42 469.12,387.5 C477.93,387.58 486.75,387.75 495.56,388 C504.37,388.25 517.59,388.83 522,389" fill="none" stroke="#d5e8d5" stroke-width="0.7"/>
<path d="M389.8,396 C394.21,396.08 407.43,396.33 416.24,396.5 C425.05,396.67 433.87,397 442.68,397 C451.49,397 460.31,396.58 469.12,396.5 C477.93,396.42 486.75,396.58 495.56,396.5 C504.37,396.42 517.59,396.08 522,396" fill="none" stroke="#d5e8d5" stroke-width="0.7"/>
<path d="M389.8,389.2 C394.21,388.78 407.43,387.03 416.24,386.7 C425.05,386.37 433.87,386.28 442.68,387.2 C451.49,388.12 460.31,390.13 469.12,392.2 C477.93,394.27 486.75,396.52 495.56,399.6 C504.37,402.68 517.59,408.85 522,410.7" fill="none" stroke="#cdd0f6" stroke-width="0.7"/>
<path d="M389.8,399.6 C394.21,399.68 407.43,399.7 416.24,400.1 C425.05,400.5 433.87,401.05 442.68,402 C451.49,402.95 460.31,403.93 469.12,405.8 C477.93,407.67 486.75,410.32 495.56,413.2 C504.37,416.08 517.59,421.45 522,423.1" fill="none" stroke="#cdd0f6" stroke-width="0.7"/>
</g>
<polyline points="389.8,381.3 416.24,382.3 442.68,382.9 469.12,382.3 495.56,381.3 522,380" fill="none" stroke="#cfc73c" stroke-width="1.8" stroke-linejoin="round" stroke-linecap="butt"/>
<polyline points="389.8,392.8 416.24,392.4 442.68,392.2 469.12,392.1 495.56,392 522,392" fill="none" stroke="#28902c" stroke-width="1.9" stroke-linejoin="round" stroke-linecap="butt"/>
<polyline points="389.8,396.3 416.24,394.3 442.68,395 469.12,399.4 495.56,407 522,417.2" fill="none" stroke="#2238f0" stroke-width="2.1" stroke-linejoin="round" stroke-linecap="butt"/>
<circle cx="416.3" cy="398.4" r="1.3" fill="#e4525a"/>
<text x="12.53" y="17" class="hd" style="font-size:8.7px" textLength="116.36" lengthAdjust="spacingAndGlyphs">Cognitive decline within 5 years</text>
<text x="38.21" y="132.7" class="tt" style="font-size:10.44px">MMSE</text>
<text x="29.72" y="287.8" class="tt" style="font-size:10.66px">CASI total</text>
<text x="75.24" y="429.5" class="tt" style="font-size:10.2px">CASI</text>
<text x="42.13" y="441.7" class="tt" style="font-size:10.47px">Short term memory</text>
<text x="219.33" y="99.7" class="tt" style="font-size:10.37px">CASI Orientation</text>
<text x="218.84" y="211.1" class="tt" style="font-size:10.25px">CASI Drawing</text>
<text x="222.04" y="322.8" class="tt" style="font-size:10.29px">CASI Language</text>
<text x="263.84" y="429.3" class="tt" style="font-size:10.11px">CASI</text>
<text x="230.4" y="442.2" class="tt" style="font-size:10.59px">Long term memory</text>
<text x="397.22" y="90.7" class="tt" style="font-size:10.58px">CASI Abstract thinking</text>
<text x="399.63" y="202.2" class="tt" style="font-size:10.44px">CASI Attention</text>
<text x="434.43" y="315.8" class="tt" style="font-size:10.38px">CASI</text>
<text x="398.6" y="328.8" class="tt" style="font-size:10.62px">Mental Manipulation</text>
<text x="426.63" y="429.2" class="tt" style="font-size:10.38px">CASI</text>
<text x="405.35" y="441.3" class="tt" style="font-size:10.04px">Verbal Fluency</text>
<text x="6.63" y="162.9" class="xl" style="font-size:6.7px" textLength="25.16" lengthAdjust="spacingAndGlyphs">Baseline</text>
<text x="42.95" y="162.9" class="xl" style="font-size:6.7px" textLength="16.68" lengthAdjust="spacingAndGlyphs">year 1</text>
<text x="70.75" y="162.9" class="xl" style="font-size:6.7px" textLength="17.08" lengthAdjust="spacingAndGlyphs">year 2</text>
<text x="104.45" y="162.9" class="xl" style="font-size:6.7px" textLength="17.33" lengthAdjust="spacingAndGlyphs">year 3</text>
<text x="132.05" y="162.9" class="xl" style="font-size:6.7px" textLength="16.96" lengthAdjust="spacingAndGlyphs">year 4</text>
<text x="163.85" y="162.9" class="xl" style="font-size:6.7px" textLength="17.02" lengthAdjust="spacingAndGlyphs">year 5</text>
<text x="3.34" y="320" class="xl" style="font-size:6.7px" textLength="24.44" lengthAdjust="spacingAndGlyphs">Baseline</text>
<text x="39.35" y="320" class="xl" style="font-size:6.7px" textLength="17.08" lengthAdjust="spacingAndGlyphs">year 1</text>
<text x="70.25" y="320" class="xl" style="font-size:6.7px" textLength="17.08" lengthAdjust="spacingAndGlyphs">year 2</text>
<text x="102.95" y="320" class="xl" style="font-size:6.7px" textLength="17.02" lengthAdjust="spacingAndGlyphs">year 3</text>
<text x="131.15" y="320" class="xl" style="font-size:6.7px" textLength="17.26" lengthAdjust="spacingAndGlyphs">year 4</text>
<text x="158.95" y="320" class="xl" style="font-size:6.7px" textLength="17.43" lengthAdjust="spacingAndGlyphs">year 5</text>
<rect x="163" y="209.5" width="19" height="13" fill="#ffffff"/>
<text x="109.95" y="36.46" class="lb" fill="#e8df48" stroke="#e8df48" style="font-size:8.3px" textLength="14.45" lengthAdjust="spacingAndGlyphs">CTL</text>
<text x="154.59" y="76.46" class="lb" fill="#2e7f35" stroke="#2e7f35" style="font-size:8.3px" textLength="14.97" lengthAdjust="spacingAndGlyphs">A&#946;&#8211;</text>
<text x="139.09" y="114.06" class="lb" fill="#2b5a92" stroke="#2b5a92" style="font-size:8.3px" textLength="14.92" lengthAdjust="spacingAndGlyphs">A&#946;+</text>
<text x="103.93" y="191.26" class="lb" fill="#e8df48" stroke="#e8df48" style="font-size:8.3px" textLength="15.59" lengthAdjust="spacingAndGlyphs">CTL</text>
<text x="166.09" y="217.76" class="lb" fill="#2e7f35" stroke="#2e7f35" style="font-size:8.3px" textLength="14.86" lengthAdjust="spacingAndGlyphs">A&#946;&#8211;</text>
<text x="132.5" y="260.76" class="lb" fill="#2b5a92" stroke="#2b5a92" style="font-size:8.3px" textLength="14.51" lengthAdjust="spacingAndGlyphs">A&#946;+</text>
<text x="99.53" y="351.16" class="lb" fill="#e8df48" stroke="#e8df48" style="font-size:8.3px" textLength="15.38" lengthAdjust="spacingAndGlyphs">CTL</text>
<text x="183.09" y="371.26" class="lb" fill="#2e7f35" stroke="#2e7f35" style="font-size:8.3px" textLength="15.07" lengthAdjust="spacingAndGlyphs">A&#946;&#8211;</text>
<text x="183.4" y="428.36" class="lb" fill="#2b5a92" stroke="#2b5a92" style="font-size:8.3px" textLength="14.61" lengthAdjust="spacingAndGlyphs">A&#946;+</text>
<text x="353.66" y="17.56" class="lb" fill="#e8df48" stroke="#e8df48" style="font-size:8.3px" textLength="14.25" lengthAdjust="spacingAndGlyphs">CTL</text>
<text x="347.09" y="27.56" class="lb" fill="#2e7f35" stroke="#2e7f35" style="font-size:8.3px" textLength="14.66" lengthAdjust="spacingAndGlyphs">A&#946;&#8211;</text>
<text x="351.59" y="80.36" class="lb" fill="#2b5a92" stroke="#2b5a92" style="font-size:8.3px" textLength="15.23" lengthAdjust="spacingAndGlyphs">A&#946;+</text>
<text x="353.94" y="119.96" class="lb" fill="#e8df48" stroke="#e8df48" style="font-size:8.3px" textLength="14.97" lengthAdjust="spacingAndGlyphs">CTL</text>
<text x="354.7" y="132.86" class="lb" fill="#2e7f35" stroke="#2e7f35" style="font-size:8.3px" textLength="14.04" lengthAdjust="spacingAndGlyphs">A&#946;&#8211;</text>
<text x="352.09" y="174.06" class="lb" fill="#2b5a92" stroke="#2b5a92" style="font-size:8.3px" textLength="14.92" lengthAdjust="spacingAndGlyphs">A&#946;+</text>
<text x="354.39" y="252.46" class="lb" fill="#2e7f35" stroke="#2e7f35" style="font-size:8.3px" textLength="15.07" lengthAdjust="spacingAndGlyphs">A&#946;&#8211;</text>
<text x="354.54" y="267.96" class="lb" fill="#e8df48" stroke="#e8df48" style="font-size:8.3px" textLength="14.87" lengthAdjust="spacingAndGlyphs">CTL</text>
<text x="354.4" y="287.86" class="lb" fill="#2b5a92" stroke="#2b5a92" style="font-size:8.3px" textLength="14.82" lengthAdjust="spacingAndGlyphs">A&#946;+</text>
<text x="354.13" y="359.66" class="lb" fill="#e8df48" stroke="#e8df48" style="font-size:8.3px" textLength="15.48" lengthAdjust="spacingAndGlyphs">CTL</text>
<text x="354.3" y="372.26" class="lb" fill="#2e7f35" stroke="#2e7f35" style="font-size:8.3px" textLength="14.56" lengthAdjust="spacingAndGlyphs">A&#946;&#8211;</text>
<text x="354.29" y="413.36" class="lb" fill="#2b5a92" stroke="#2b5a92" style="font-size:8.3px" textLength="14.92" lengthAdjust="spacingAndGlyphs">A&#946;+</text>
<text x="524.53" y="22.26" class="lb" fill="#e8df48" stroke="#e8df48" style="font-size:8.3px" textLength="15.59" lengthAdjust="spacingAndGlyphs">CTL</text>
<text x="525.5" y="36.46" class="lb" fill="#2e7f35" stroke="#2e7f35" style="font-size:8.3px" textLength="14.04" lengthAdjust="spacingAndGlyphs">A&#946;&#8211;</text>
<text x="529.4" y="66.76" class="lb" fill="#2b5a92" stroke="#2b5a92" style="font-size:8.3px" textLength="14.61" lengthAdjust="spacingAndGlyphs">A&#946;+</text>
<text x="531.06" y="133.56" class="lb" fill="#e8df48" stroke="#e8df48" style="font-size:8.3px" textLength="14.14" lengthAdjust="spacingAndGlyphs">CTL</text>
<text x="531.11" y="147.26" class="lb" fill="#2e7f35" stroke="#2e7f35" style="font-size:8.3px" textLength="13.63" lengthAdjust="spacingAndGlyphs">A&#946;&#8211;</text>
<text x="531.1" y="164.06" class="lb" fill="#2b5a92" stroke="#2b5a92" style="font-size:8.3px" textLength="14.2" lengthAdjust="spacingAndGlyphs">A&#946;+</text>
<text x="529.25" y="267.96" class="lb" fill="#e8df48" stroke="#e8df48" style="font-size:8.3px" textLength="14.66" lengthAdjust="spacingAndGlyphs">CTL</text>
<text x="529.41" y="282.16" class="lb" fill="#2e7f35" stroke="#2e7f35" style="font-size:8.3px" textLength="13.22" lengthAdjust="spacingAndGlyphs">A&#946;&#8211;</text>
<text x="529.4" y="298.16" class="lb" fill="#2b5a92" stroke="#2b5a92" style="font-size:8.3px" textLength="14.61" lengthAdjust="spacingAndGlyphs">A&#946;+</text>
<text x="530.74" y="390.36" class="lb" fill="#e8df48" stroke="#e8df48" style="font-size:8.3px" textLength="15.17" lengthAdjust="spacingAndGlyphs">CTL</text>
<text x="530.9" y="404.26" class="lb" fill="#2e7f35" stroke="#2e7f35" style="font-size:8.3px" textLength="14.56" lengthAdjust="spacingAndGlyphs">A&#946;&#8211;</text>
<text x="530.89" y="420.86" class="lb" fill="#2b5a92" stroke="#2b5a92" style="font-size:8.3px" textLength="15.13" lengthAdjust="spacingAndGlyphs">A&#946;+</text>
</g></svg>
</body></html>
